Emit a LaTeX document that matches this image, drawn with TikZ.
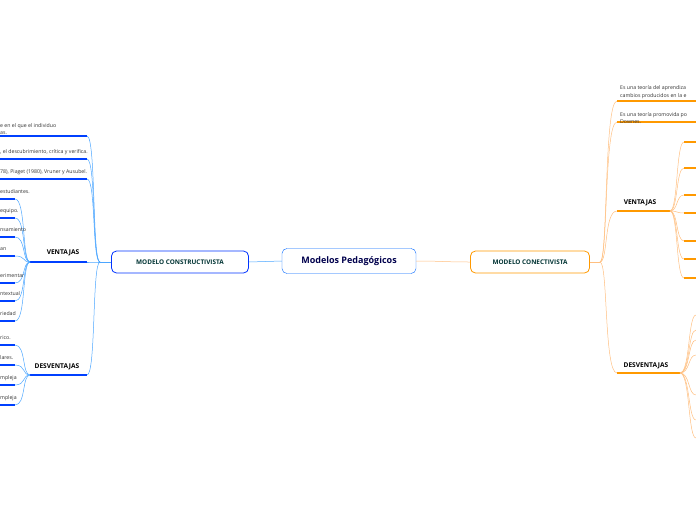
\documentclass[tikz,border=0pt]{standalone}
\usepackage{fontspec}
\setmainfont{Open Sans}
\begin{document}
\begin{tikzpicture}[x=1pt,y=-1pt,
  bl/.style={draw=blue!50!cyan!70,line width=0.5pt},
  blt/.style={draw=blue!75!cyan,line width=1.2pt},
  br/.style={draw=orange!50,line width=0.5pt},
  brt/.style={draw=orange!80!yellow,line width=1.2pt},
  txt/.style={font=\fontsize{5.2}{7.5}\selectfont,anchor=west,inner sep=0,align=left,text=black!80},
  hd/.style={font=\bfseries\fontsize{6.6}{7}\selectfont,inner sep=0,text=black}]
\useasboundingbox (0,0) rectangle (696,520);
\node[draw=blue!60!cyan,rounded corners=5pt,minimum width=134pt,minimum height=25pt,font=\bfseries\fontsize{9}{10}\selectfont,text=blue!30!black] (c) at (349,261) {Modelos Pedagógicos};
\node[draw=blue!80!cyan,line width=0.8pt,rounded corners=5pt,minimum width=137pt,minimum height=22pt,font=\bfseries\fontsize{6.4}{7}\selectfont,text=teal!40!black] (l) at (180,262) {MODELO CONSTRUCTIVISTA};
\node[draw=orange!80!yellow,line width=0.8pt,rounded corners=5pt,minimum width=119pt,minimum height=22pt,font=\bfseries\fontsize{6.4}{7}\selectfont,text=teal!40!black] (r) at (530,262) {MODELO CONECTIVISTA};
\draw[bl] (c.west) -- (l.east);
\draw[br] (c.east) .. controls +(25,0) and +(-25,0) .. (r.west);
\coordinate (ls) at (100,262);
\draw[bl] (l.west) -- (ls);
\foreach \y/\n in {136/a,159/b,179/c}{
  \coordinate (le\n) at (87,\y); \coordinate (lb\n) at (0,\y);
  \draw[bl] (ls) .. controls (92,262) and (96,\y) .. (le\n);
  \draw[blt] (lb\n) -- (le\n);}
\node[txt] (t1) at (0,129) {e en el que el individuo\\as.};
\node[txt] (t2) at (0,152) {, el descubrimiento, crítica y verifica.};
\node[txt] (t3) at (0,172) {78), Piaget (1980), Vruner y Ausubel.};
\coordinate (lv1) at (30,262); \coordinate (lv2) at (87,262);
\draw[bl] (ls) .. controls (92,262) and (95,262) .. (lv2);
\draw[blt] (lv1) -- (lv2);
\node[hd] (lvt) at (63,253) {VENTAJAS};
\foreach \y/\t in {199/estudiantes.,218/equipo.,237/nsamiento,256/an,283/erimentar,301/ntextual,321/riedad}{
  \coordinate (lx) at (15,\y); \coordinate (lo) at (0,\y);
  \draw[bl] (lv1) .. controls (22,262) and (26,\y) .. (lx);
  \draw[blt] (lo) -- (lx);
  \node[txt] at (0,\y-7) {\t};}
\coordinate (ld1) at (30,375); \coordinate (ld2) at (87,375);
\draw[bl] (ls) .. controls (92,262) and (96,375) .. (ld2);
\draw[blt] (ld1) -- (ld2);
\node[hd] (ldt) at (57,367) {DESVENTAJAS};
\foreach \y/\t in {345/rico.,365/lares.,385/mpleja,405/mpleja}{
  \coordinate (lx) at (15,\y); \coordinate (lo) at (0,\y);
  \draw[bl] (ld1) .. controls (22,375) and (26,\y) .. (lx);
  \draw[blt] (lo) -- (lx);
  \node[txt] at (0,\y-7) {\t};}
\coordinate (rs) at (600,262);
\draw[br] (r.east) -- (rs);
\foreach \y/\n in {101/a,122/b}{
  \coordinate (re\n) at (617,\y); \coordinate (rb\n) at (696,\y);
  \draw[br] (rs) .. controls (608,262) and (604,\y) .. (re\n);
  \draw[brt] (re\n) -- (rb\n);}
\node[txt] (r1) at (620,92) {Es una teoría del aprendiza\\cambios producidos en la e};
\node[txt] (r2) at (620,118) {Es una teoría promovida po\\Downes.};
\coordinate (rv1) at (617,211); \coordinate (rv2) at (670,211);
\draw[br] (rs) .. controls (608,262) and (604,211) .. (rv1);
\draw[brt] (rv1) -- (rv2);
\node[hd] (rvt) at (640,203) {VENTAJAS};
\foreach \y in {142,168,195,213,241,259,278}{
  \coordinate (rx) at (684,\y); \coordinate (ro) at (696,\y);
  \draw[br] (rv2) .. controls (678,211) and (676,\y) .. (rx);
  \draw[brt] (rx) -- (ro);}
\coordinate (rd1) at (617,373); \coordinate (rd2) at (680,373);
\draw[br] (rs) .. controls (608,262) and (604,373) .. (rd1);
\draw[brt] (rd1) -- (rd2);
\node[hd] (rdt) at (646,366) {DESVENTAJAS};
\foreach \y in {315,330,340,355,395,420,438}{
  \coordinate (rx) at (696,\y);
  \draw[br] (rd2) .. controls (690,373) and (688,\y) .. (rx);}
\end{tikzpicture}
\end{document}
